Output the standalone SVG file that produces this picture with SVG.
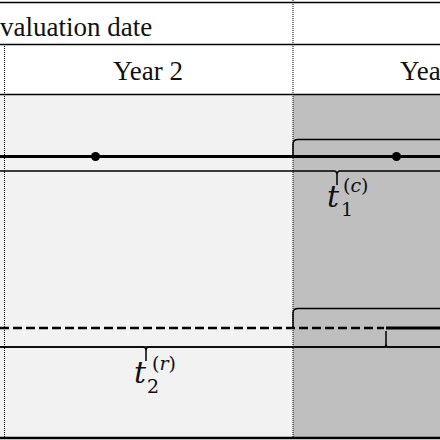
<svg xmlns="http://www.w3.org/2000/svg" width="440" height="440" viewBox="0 0 440 440">
<style>
.hdr{font-family:"Liberation Serif","Times New Roman",serif;font-size:27px;fill:#111}
.m{font-family:"DejaVu Serif","Liberation Serif",serif;fill:#111;font-size:19px}
.thin{stroke:#000;stroke-width:1.5;fill:none}
.thick{stroke:#000;stroke-width:3;fill:none}
.dot{stroke:#000;stroke-width:1;stroke-dasharray:1 1;fill:none}
</style>
<rect x="0" y="0" width="440" height="440" fill="#fff"/>
<rect x="0" y="94" width="293" height="344" fill="#f2f2f2"/>
<rect x="293" y="94" width="147" height="344" fill="#bfbfbf"/>
<g id="header">
<line class="thin" x1="0" y1="2.5" x2="440" y2="2.5"/>
<line class="thin" x1="0" y1="44.5" x2="440" y2="44.5"/>
<line class="thin" x1="0" y1="94.5" x2="440" y2="94.5"/>
<text class="hdr" x="0" y="35.5">valuation date</text>
<text class="hdr" x="148" y="80" text-anchor="middle">Year 2</text>
<text class="hdr" x="400" y="80">Yea</text>
</g>
<g id="dividers">
<line class="dot" x1="4.5" y1="44" x2="4.5" y2="438"/>
<line class="dot" x1="293" y1="0" x2="293" y2="438"/>
</g>
<g id="connectors">
<line class="thick" x1="0" y1="156.5" x2="440" y2="156.5"/>
<path class="thin" d="M0 171 H334 Q337 171 337 175 V185 M337 175 Q337 171 340 171 H440"/>
<path class="thin" d="M293 157 V144 Q293 139.5 298 139.5 H440"/>
<line x1="0" y1="328" x2="384" y2="328" stroke="#000" stroke-width="2.5" stroke-dasharray="9 4"/>
<line class="thick" x1="386" y1="328" x2="440" y2="328"/>
<path class="thin" d="M293 327 V313 Q293 308.5 298 308.5 H440"/>
<path class="thin" d="M0 347 H143 Q146 347 146 351 V361 M146 351 Q146 347 149 347 H440"/>
<path class="thin" d="M0 347 H384 Q386 347 386 343 V331 M386 343 Q386 347 388 347 H440" fill="none"/>
<line x1="0" y1="438" x2="440" y2="438" stroke="#000" stroke-width="2.5"/>
</g>
<g id="node-a"><circle cx="95.5" cy="156.5" r="4.5" fill="#000"/></g>
<g id="node-b"><circle cx="396.5" cy="156.5" r="4.5" fill="#000"/></g>
<g id="label-t1c">
<text class="m"><tspan x="327" y="207" font-size="30" font-style="italic">t</tspan><tspan x="341" y="216">1</tspan><tspan x="343" y="192">(</tspan><tspan font-style="italic">c</tspan><tspan>)</tspan></text>
</g>
<g id="label-t2r">
<text class="m"><tspan x="134" y="383" font-size="30" font-style="italic">t</tspan><tspan x="147" y="393">2</tspan><tspan x="152" y="370">(</tspan><tspan font-style="italic">r</tspan><tspan>)</tspan></text>
</g>
</svg>
